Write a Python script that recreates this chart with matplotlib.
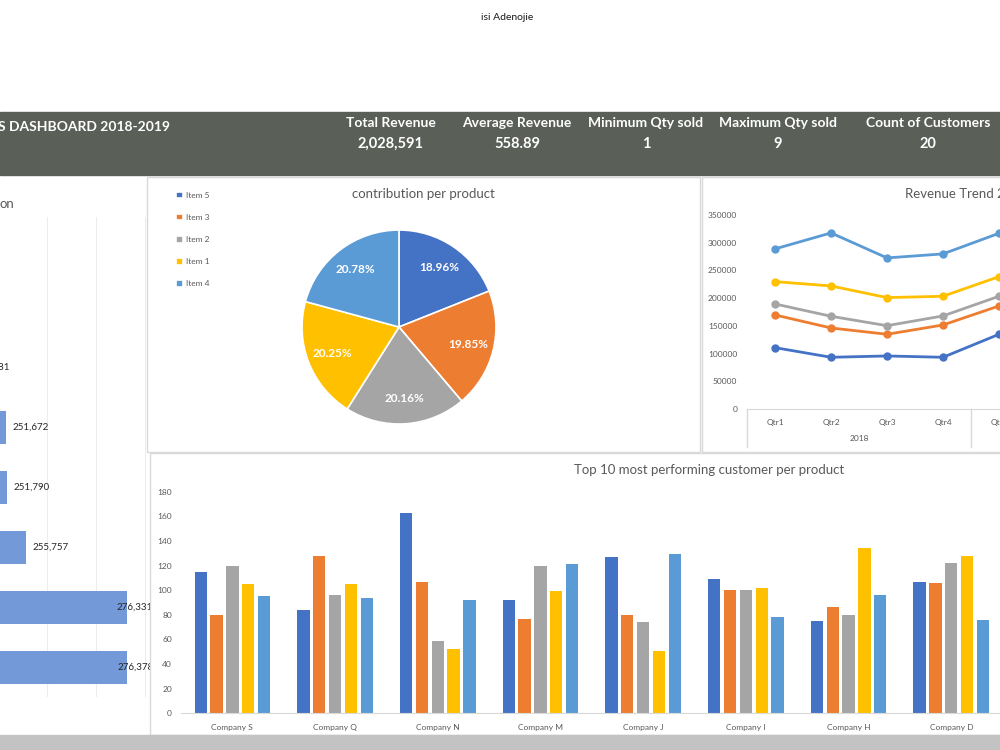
import matplotlib.pyplot as plt
import matplotlib.transforms as mtransforms
from matplotlib.patches import Rectangle

plt.rcParams['font.family'] = ['Lato', 'DejaVu Sans']

W, H = 1000, 750

# header
report_by = 'isi Adenojie'
dashboard_title = 'S DASHBOARD 2018-2019'
kpi_names = ['Total Revenue', 'Average Revenue', 'Minimum Qty sold', 'Maximum Qty sold', 'Count of Customers']
kpi_values = ['2,028,591', '558.89', '1', '9', '20']
kpi_x = [391, 517, 646, 778, 928]

# left panel (only the right end is on screen)
left_title = 'on'
left_values = [276378, 276331, 255757, 251790, 251672, 243681]

# contribution per product
pie_labels = ['Item 5', 'Item 3', 'Item 2', 'Item 1', 'Item 4']
pie_shares = [18.96, 19.85, 20.16, 20.25, 20.78]

# revenue trend
quarters = ['Qtr1', 'Qtr2', 'Qtr3', 'Qtr4', 'Qtr1']
trend_s1 = [110700, 93300, 95700, 93300, 134800]
trend_s2 = [169700, 146200, 134800, 151600, 185900]
trend_s3 = [189500, 167300, 150300, 167900, 203400]
trend_s4 = [229800, 222000, 201000, 203400, 238800]
trend_s5 = [288800, 317700, 272600, 279800, 317000]

# top 10 customers
companies = ['Company S', 'Company Q', 'Company N', 'Company M',
             'Company J', 'Company I', 'Company H', 'Company D']
cust_s1 = [115, 84, 163, 92, 127, 109, 75, 107]
cust_s2 = [80, 128, 107, 77, 80, 100, 86, 106]
cust_s3 = [120, 96, 59, 120, 74, 100, 80, 122]
cust_s4 = [105, 105, 52, 99, 51, 102, 134, 128]
cust_s5 = [95, 94, 92, 121, 129, 78, 96, 76]

colors = ['#4472C4', '#ED7D31', '#A5A5A5', '#FFC000', '#5B9BD5']
txt_gray = '#595959'
line_gray = '#d9d9d9'


def box(x0, y0, x1, y1):
    # pixel box -> figure fraction
    return [x0 / W, 1 - y1 / H, (x1 - x0) / W, (y1 - y0) / H]


fig = plt.figure(figsize=(10, 7.5), dpi=100)

# background + header
bg = fig.add_axes([0, 0, 1, 1])
bg.set_xlim(0, W)
bg.set_ylim(H, 0)
bg.axis('off')
bg.set_zorder(0)
bg.text(507, 18, report_by, ha='center', va='center', fontsize=7.5, color='#1a1a1a')
bg.add_patch(Rectangle((0, 112), W, 63, color='#5a5f58'))
bg.text(-2, 127, dashboard_title, ha='left', va='center', fontsize=10,
        fontweight='bold', color='white')
for x, name, val in zip(kpi_x, kpi_names, kpi_values):
    bg.text(x, 123, name, ha='center', va='center', fontsize=10, fontweight='bold', color='white')
    bg.text(x, 143.5, val, ha='center', va='center', fontsize=10.5, fontweight='bold', color='white')

# left bar chart
ax_l = fig.add_axes(box(0, 217, 146, 697))
ax_l.set_zorder(1)
ax_l.patch.set_alpha(0)
ypos = list(range(len(left_values)))
ax_l.barh(ypos, left_values, height=0.55, color='#7399d8', zorder=2)
ax_l.set_xlim(250450, 280270)
ax_l.set_ylim(-0.5, 7.5)
ax_l.set_xticks([260000, 270000, 280000])
ax_l.set_yticks([])
ax_l.grid(axis='x', color='#ededed', linewidth=0.8, zorder=0)
ax_l.tick_params(labelbottom=False, length=0)
for s in ax_l.spines.values():
    s.set_visible(False)
for i, v in enumerate(left_values):
    off = -7 if v > 270000 else 5
    ax_l.annotate(f'{v:,}', xy=(v, i), xytext=(off, 0), textcoords='offset points',
                  ha='left', va='center', fontsize=7, color='#262626',
                  annotation_clip=False, zorder=3)

# panels on top of the left chart
ov = fig.add_axes([0, 0, 1, 1])
ov.set_xlim(0, W)
ov.set_ylim(H, 0)
ov.axis('off')
ov.set_zorder(2)
ov.patch.set_alpha(0)
ov.add_patch(Rectangle((147, 177), 553, 275, facecolor='white', edgecolor=line_gray, lw=1))
ov.add_patch(Rectangle((702, 177), 320, 275, facecolor='white', edgecolor=line_gray, lw=1))
ov.add_patch(Rectangle((150, 453), 870, 282, facecolor='white', edgecolor=line_gray, lw=1))
ov.add_patch(Rectangle((0, 735), W, 15, color='#c3c3c3'))
ov.text(14, 204, left_title, ha='right', va='center', fontsize=9.5, color=txt_gray)
ov.text(423, 193.5, 'contribution per product', ha='center', va='center', fontsize=9.5, color=txt_gray)
ov.text(905, 193.5, 'Revenue Trend 2018-2019', ha='left', va='center', fontsize=9.5, color=txt_gray)
ov.text(709, 470.5, 'Top 10 most performing customer per product', ha='center', va='center',
        fontsize=9.5, color=txt_gray)

# pie
ax_p = fig.add_axes(box(302, 230, 496, 424))
ax_p.set_zorder(3)
wedges, texts, autotexts = ax_p.pie(
    pie_shares, colors=colors, startangle=90, counterclock=False,
    autopct='%.2f%%', pctdistance=0.74,
    wedgeprops=dict(edgecolor='white', linewidth=1.2),
    textprops=dict(color='white', fontsize=8.5, fontweight='bold'))
ax_p.set_xlim(-1, 1)
ax_p.set_ylim(-1, 1)
ax_p.legend(wedges, pie_labels, loc='upper left', bbox_to_anchor=(176 / W, 1 - 192 / H),
            bbox_transform=fig.transFigure, frameon=False, fontsize=6, labelcolor=txt_gray,
            handlelength=0.8, handleheight=0.8, handletextpad=0.4, labelspacing=1.8,
            borderaxespad=0, borderpad=0)

# revenue trend
ax_t = fig.add_axes(box(747, 215, 1195, 409))
ax_t.set_zorder(3)
ax_t.patch.set_alpha(0)
xq = list(range(len(quarters)))
for vals, c in zip([trend_s1, trend_s2, trend_s3, trend_s4, trend_s5], colors):
    ax_t.plot(xq, vals, color=c, linewidth=2, marker='o', markersize=5, clip_on=False)
ax_t.set_xlim(-0.5, 7.5)
ax_t.set_ylim(0, 350000)
yt = list(range(0, 350001, 50000))
ax_t.set_yticks(yt)
ax_t.set_yticklabels([str(v) for v in yt])
ax_t.set_xticks(xq)
ax_t.set_xticklabels(quarters)
ax_t.tick_params(axis='y', length=0, pad=7, labelsize=6, labelcolor=txt_gray)
ax_t.tick_params(axis='x', length=0, pad=7.5, labelsize=6, labelcolor=txt_gray)
for s in ['left', 'top', 'right']:
    ax_t.spines[s].set_visible(False)
ax_t.spines['bottom'].set_color(line_gray)
trans = mtransforms.blended_transform_factory(ax_t.transData, ax_t.transAxes)
for xs in [-0.5, 3.5]:
    ax_t.plot([xs, xs], [0, -0.196], transform=trans, color=line_gray, lw=1, clip_on=False)
ax_t.text(1.5, -0.152, '2018', transform=trans, ha='center', va='center', fontsize=6, color=txt_gray)

# top customers grouped bars
ax_b = fig.add_axes(box(181, 491.7, 1208, 713.3))
ax_b.set_zorder(3)
ax_b.patch.set_alpha(0)
xc = list(range(len(companies)))
step = 0.154
for k, (vals, c) in enumerate(zip([cust_s1, cust_s2, cust_s3, cust_s4, cust_s5], colors)):
    ax_b.bar([x + (k - 2) * step for x in xc], vals, width=0.12, color=c)
ax_b.set_xlim(-0.5, 9.5)
ax_b.set_ylim(0, 180)
ax_b.set_yticks(range(0, 181, 20))
ax_b.set_xticks(xc)
ax_b.set_xticklabels(companies)
ax_b.tick_params(axis='y', length=0, pad=6.5, labelsize=6, labelcolor=txt_gray)
ax_b.tick_params(axis='x', length=0, pad=8, labelsize=6, labelcolor=txt_gray)
for s in ['left', 'top', 'right']:
    ax_b.spines[s].set_visible(False)
ax_b.spines['bottom'].set_color(line_gray)

fig.savefig('out.png', dpi=100)
